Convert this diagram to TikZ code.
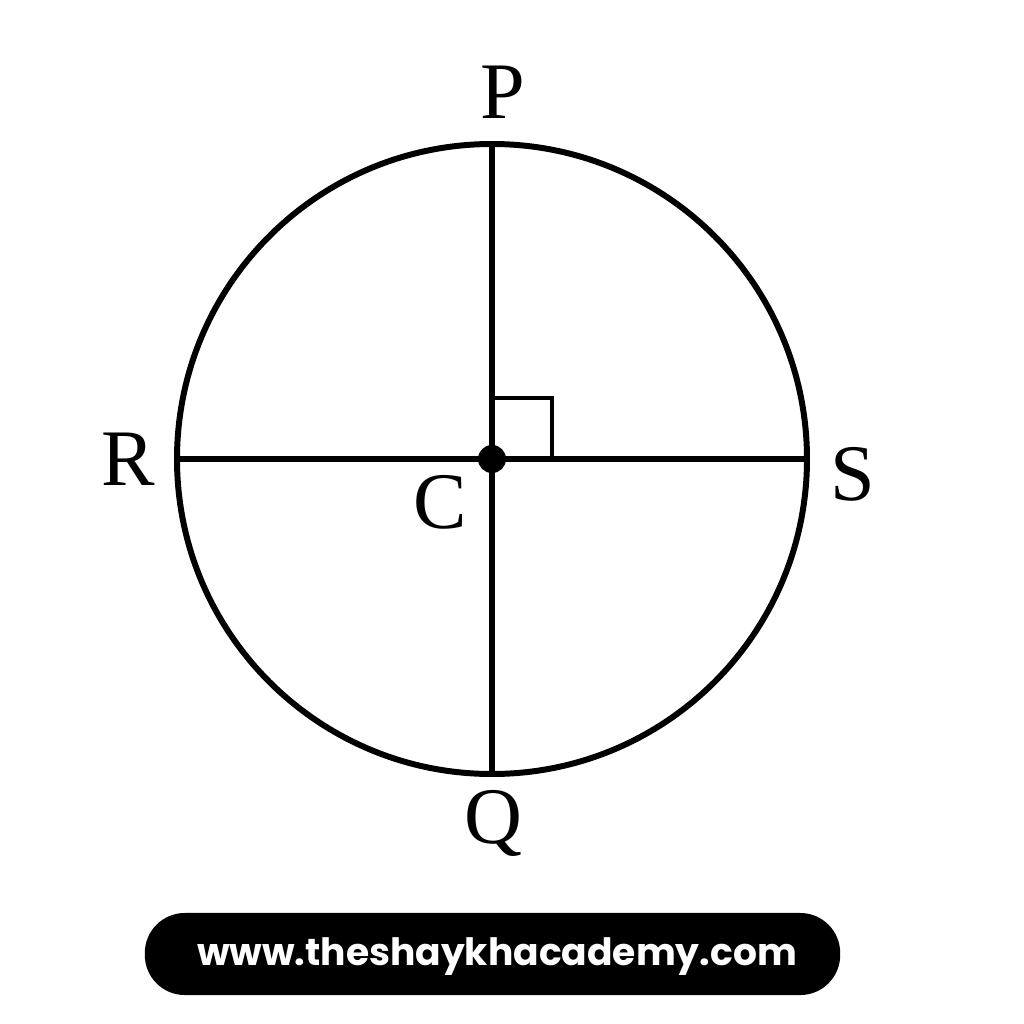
\documentclass[tikz,border=0pt]{standalone}
\usepackage{fontspec}
\setmainfont{Liberation Serif}
\newfontfamily\bannerfont{Poppins}
\begin{document}
\begin{tikzpicture}[x=0.01cm,y=-0.01cm,
  geo/.style={line width=1.7pt,black},
  lab/.style={font=\fontsize{22.8}{24}\selectfont,anchor=base,inner sep=0pt},
  banner/.style={fill=black,rounded corners=0.4cm}]
\useasboundingbox (0,0) rectangle (1024,1024);
\fill[white] (0,0) rectangle (1024,1024);
\coordinate (C) at (492,459);
\draw[geo] (C) circle[radius=315];
\coordinate (P) at (492,144);
\coordinate (Q) at (492,774);
\coordinate (R) at (177,459);
\coordinate (S) at (807,459);
\draw[geo] (P) -- (Q);
\draw[geo] (R) -- (S);
\draw[line width=1.1pt] (492,398) -- (552,398) -- (552,459);
\fill (C) circle[radius=14];
\node[lab] (lP) at (503,118) {P};
\node[lab] (lR) at (128,485) {R};
\node[lab] (lS) at (853,500) {S};
\node[lab] (lC) at (440,528) {C};
\node[lab] (lQ) at (493,843) {Q};
\node[banner,minimum width=6.95cm,minimum height=0.82cm] (ban) at (492.5,954) {};
\node[text=white,font=\bannerfont\bfseries\fontsize{10.7}{12}\selectfont] (url) at (497,957) {www.theshaykhacademy.com};
\end{tikzpicture}
\end{document}
